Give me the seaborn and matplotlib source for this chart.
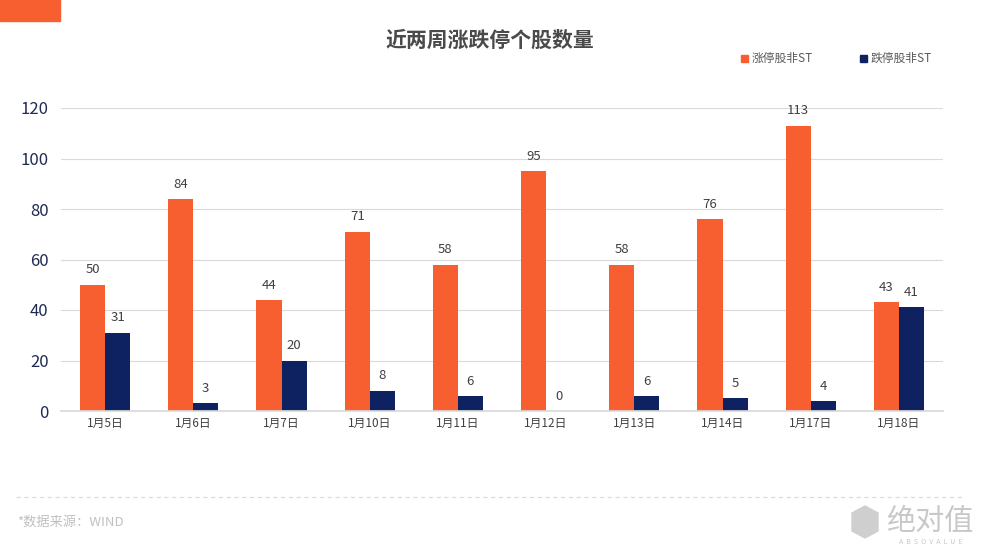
import numpy as np
import pandas as pd
import matplotlib
matplotlib.use("Agg")
import matplotlib.pyplot as plt
import seaborn as sns

dates = ["1月5日", "1月6日", "1月7日", "1月10日", "1月11日", "1月12日",
         "1月13日", "1月14日", "1月17日", "1月18日"]
limit_up = [50, 84, 44, 71, 58, 95, 58, 76, 113, 43]
limit_down = [31, 3, 20, 8, 6, 0, 6, 5, 4, 41]
series_names = ["涨停股非ST", "跌停股非ST"]
colors = ["#F75E30", "#0E2160"]

df = pd.DataFrame({"date": dates * 2,
                   "value": limit_up + limit_down,
                   "series": [series_names[0]] * len(dates) + [series_names[1]] * len(dates)})

sns.set_theme(style="white")
plt.rcParams["font.family"] = ["Noto Sans CJK SC", "DejaVu Sans"]

fig = plt.figure(figsize=(9.92, 5.56), dpi=100)
ax = fig.add_axes([61 / 992, 1 - 411 / 556, 882 / 992, 303 / 556])

sns.barplot(data=df, x="date", y="value", hue="series", palette=colors,
            width=0.567, saturation=1, linewidth=0, ax=ax, legend=False)

for cont in ax.containers:
    ax.bar_label(cont, padding=6, fontsize=9.5, color="#404040")

ax.set_ylim(0, 120)
ax.set_yticks(range(0, 121, 20))
ax.yaxis.grid(True, color="#D9D9D9", linewidth=0.8)
ax.set_axisbelow(True)
for s in ["top", "right", "left"]:
    ax.spines[s].set_visible(False)
ax.spines["bottom"].set_color("#D9D9D9")
ax.tick_params(axis="y", length=0, labelsize=12, labelcolor="#1F2A55", pad=9)
ax.tick_params(axis="x", length=0, labelsize=8.5, labelcolor="#404040", pad=4)
ax.set_xlabel("")
ax.set_ylabel("")

# title and legend
fig.text(490 / 992, 1 - 40 / 556, "近两周涨跌停个股数量", ha="center", va="center",
         fontsize=15, fontweight="bold", color="#4A4A4A")
fig.patches.append(plt.Rectangle((0, 1 - 21 / 556), 60 / 992, 21 / 556,
                                 transform=fig.transFigure, color="#F75E30"))
for x0, c, name in [(741, colors[0], series_names[0]), (860, colors[1], series_names[1])]:
    fig.patches.append(plt.Rectangle((x0 / 992, 1 - 62 / 556), 7 / 992, 7 / 556,
                                     transform=fig.transFigure, color=c))
    fig.text((x0 + 11) / 992, 1 - 58.5 / 556, name, ha="left", va="center",
             fontsize=8.5, color="#595959")

# footer
fig.add_artist(plt.Line2D([16 / 992, 965 / 992], [1 - 497 / 556, 1 - 497 / 556],
                          transform=fig.transFigure, color="#D9D9D9",
                          linewidth=0.8, linestyle=(0, (4, 3))))
fig.text(17 / 992, 1 - 522 / 556, "*数据来源：WIND", ha="left", va="center",
         fontsize=9.5, color="#C0C0C0")
fig.text(886 / 992, 1 - 522 / 556, "绝对值", ha="left", va="center",
         fontsize=21, color="#C8C8C8")
fig.text(931 / 992, 1 - 542 / 556, "A  B  S  O  V  A  L  U  E", ha="center", va="center",
         fontsize=5, color="#C8C8C8")
fig.patches.append(plt.Polygon([[852 / 992, 1 - 513 / 556], [865 / 992, 1 - 506 / 556],
                                [878 / 992, 1 - 513 / 556], [878 / 992, 1 - 531 / 556],
                                [865 / 992, 1 - 538 / 556], [852 / 992, 1 - 531 / 556]],
                               closed=True, transform=fig.transFigure, color="#CFCFCF"))

fig.savefig("out.png", dpi=100)
